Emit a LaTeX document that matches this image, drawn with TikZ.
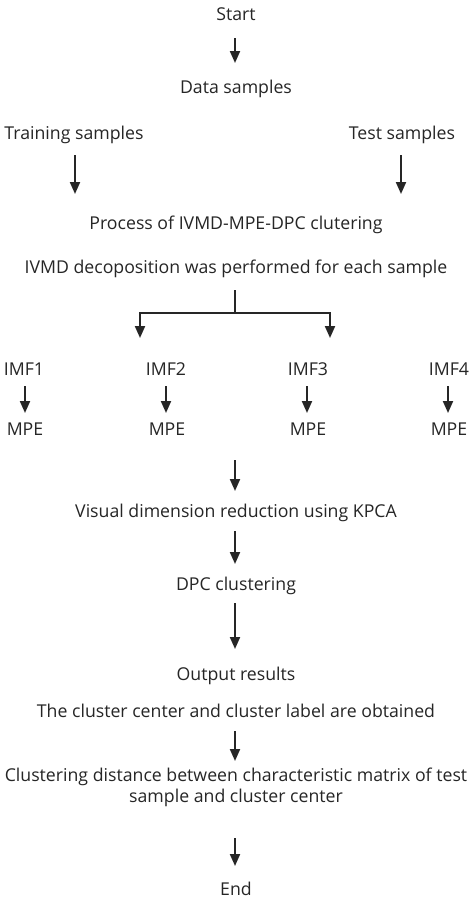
\documentclass[tikz,border=0pt]{standalone}
\usepackage{fontspec}
\setmainfont{Open Sans}
\usetikzlibrary{arrows.meta}
\definecolor{ink}{HTML}{262626}
\begin{document}
\begin{tikzpicture}[x=1pt,y=-1pt,
  txt/.style={inner sep=0pt,anchor=base,text=ink,font=\fontsize{17.7}{20.5}\selectfont},
  arr/.style={draw=ink,line width=2pt,-{Triangle[length=12pt,width=10pt]}},
  ln/.style={draw=ink,line width=2pt}]
\useasboundingbox[fill=white] (0,0) rectangle (474,902);
% texts
\node[txt] (start) at (236,20) {Start};
\node[txt] (data) at (236,93) {Data samples};
\node[txt] (train) at (74,139) {Training samples};
\node[txt] (test) at (402,139) {Test samples};
\node[txt] (proc) at (236,229) {Process of IVMD-MPE-DPC clutering};
\node[txt] (ivmd) at (236,273) {IVMD decoposition was performed for each sample};
\node[txt] (imf1) at (24,375) {IMF1};
\node[txt] (imf2) at (166,375) {IMF2};
\node[txt] (imf3) at (308,375) {IMF3};
\node[txt] (imf4) at (449,375) {IMF4};
\node[txt] (mpe1) at (25,435) {MPE};
\node[txt] (mpe2) at (167,435) {MPE};
\node[txt] (mpe3) at (308,435) {MPE};
\node[txt] (mpe4) at (449,435) {MPE};
\node[txt] (kpca) at (236,517) {Visual dimension reduction using KPCA};
\node[txt] (dpc) at (236,590) {DPC clustering};
\node[txt] (out) at (236,680) {Output results};
\node[txt] (cc) at (236,717) {The cluster center and cluster label are obtained};
\node[txt,align=center,anchor=north] (dist) at (236,768) {Clustering distance between characteristic matrix of test\\sample and cluster center};
\node[txt] (end) at (236,895) {End};
% arrow endpoints
\coordinate (a1s) at (235,38);  \coordinate (a1e) at (235,63);
\coordinate (a2s) at (75,155);  \coordinate (a2e) at (75,194);
\coordinate (a3s) at (401,155); \coordinate (a3e) at (401,194);
\coordinate (b0) at (235,290);  \coordinate (b1) at (235,313);
\coordinate (bl) at (140,313);  \coordinate (br) at (330,313);
\coordinate (ble) at (140,338); \coordinate (bre) at (330,338);
\coordinate (i1s) at (25,386);  \coordinate (i1e) at (25,413);
\coordinate (i2s) at (166,386); \coordinate (i2e) at (166,413);
\coordinate (i3s) at (307,386); \coordinate (i3e) at (307,413);
\coordinate (i4s) at (448,386); \coordinate (i4e) at (448,413);
\coordinate (a4s) at (235,460); \coordinate (a4e) at (235,491);
\coordinate (a5s) at (235,531); \coordinate (a5e) at (235,564);
\coordinate (a6s) at (235,603); \coordinate (a6e) at (235,649);
\coordinate (a7s) at (235,731); \coordinate (a7e) at (235,761);
\coordinate (a8s) at (235,838); \coordinate (a8e) at (235,866);
% connectors
\draw[arr] (a1s) -- (a1e);
\draw[arr] (a2s) -- (a2e);
\draw[arr] (a3s) -- (a3e);
\draw[ln] (b0) -- (b1);
\draw[arr] (b1) -- (bl) -- (ble);
\draw[arr] (b1) -- (br) -- (bre);
\draw[arr] (i1s) -- (i1e);
\draw[arr] (i2s) -- (i2e);
\draw[arr] (i3s) -- (i3e);
\draw[arr] (i4s) -- (i4e);
\draw[arr] (a4s) -- (a4e);
\draw[arr] (a5s) -- (a5e);
\draw[arr] (a6s) -- (a6e);
\draw[arr] (a7s) -- (a7e);
\draw[arr] (a8s) -- (a8e);
\end{tikzpicture}
\end{document}
